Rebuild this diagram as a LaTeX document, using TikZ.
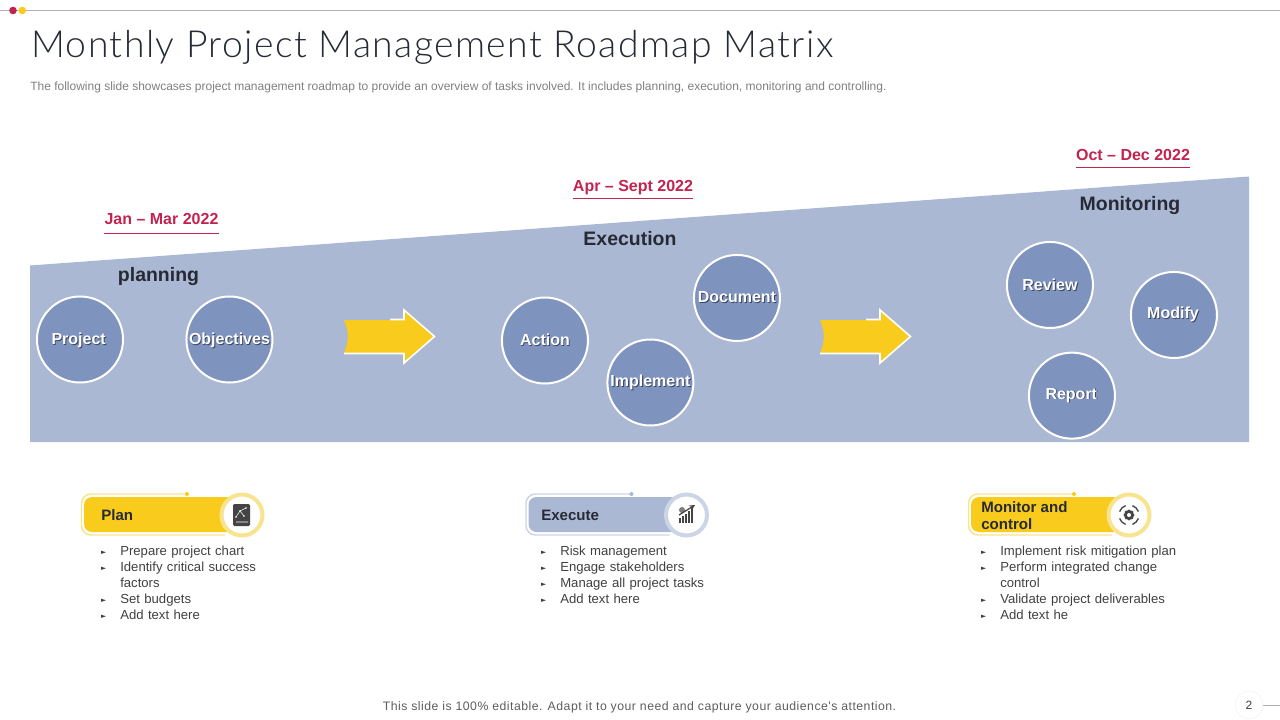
\documentclass[tikz,border=0pt]{standalone}
\usepackage{fontspec}
\setmainfont{Liberation Sans}
\newfontfamily\titlefont[LetterSpace=3.8]{Lato Light}
\newfontfamily\footerfont[LetterSpace=3.95]{Liberation Sans}
\newfontfamily\bulletfont{DejaVu Sans}
\usepackage{xcolor}
\usetikzlibrary{shapes.geometric, arrows}
\definecolor{bandblue}{HTML}{ABB8D4}
\definecolor{circblue}{HTML}{7E93BE}
\definecolor{circshadow}{HTML}{3C4660}
\definecolor{crimson}{HTML}{C3234F}
\definecolor{sunyellow}{HTML}{F9CB1C}
\definecolor{paleyellow}{HTML}{F8E38E}
\definecolor{paleblue}{HTML}{CCD5E6}
\definecolor{inkdark}{HTML}{262A35}
\definecolor{bodygray}{HTML}{404040}
\definecolor{notegray}{HTML}{7F7F7F}
\definecolor{icongray}{HTML}{444444}
\newcommand{\shadowed}[1]{\leavevmode\rlap{\kern0.7pt\raisebox{-0.7pt}{\textcolor{circshadow}{#1}}}#1}
\newcommand{\bitem}{\leavevmode\llap{\raisebox{0.8pt}{\bulletfont\fontsize{5pt}{5pt}\selectfont ►}\kern10.5pt}}
\tikzstyle{stage} = [circle, minimum size=64.5pt, inner sep=0pt, draw=white, line width=1.5pt, fill=circblue, text=white, font=\fontsize{12}{14}\selectfont\bfseries]
\tikzstyle{phase} = [text=inkdark, font=\fontsize{14.6}{17}\selectfont\bfseries]
\tikzstyle{period} = [anchor=base, text=crimson, inner xsep=0pt, inner ysep=4.5pt, text depth=0pt, font=\fontsize{12}{14}\selectfont\bfseries]
\tikzstyle{periodline} = [draw=crimson, line width=0.75pt]
\tikzstyle{pilltext} = [anchor=west, inner sep=0pt, text=inkdark, align=left, font=\fontsize{11.3}{12.8}\selectfont\bfseries]
\tikzstyle{bullets} = [anchor=north west, inner sep=0pt, text width=150pt, align=left, text=bodygray, font=\fontsize{9.85}{12}\selectfont]

\begin{document}
\begin{tikzpicture}[x=0.75pt, y=-0.75pt, node distance=75pt]
                \useasboundingbox (0,0) rectangle (1280,720);

% ---------------------------------------------
% Header
% ---------------------------------------------
                \draw [line width=0.6pt, black!30] (0,10.5) -- (1280,10.5);
                \fill [crimson] (13,10.5) circle (3.8);
                \fill [sunyellow] (22.3,10.5) circle (3.8);
                \node (title) [anchor=west, inner sep=0pt, text=inkdark] at (31,47) {\titlefont\fontsize{28}{34}\selectfont Monthly Project Management Roadmap Matrix};
                \node (subtitle) [anchor=west, inner sep=0pt, text=notegray] at (30,87.5) {\fontsize{9}{11}\selectfont The following slide showcases project management roadmap to provide an overview of tasks involved. It includes planning, execution, monitoring and controlling.};

% ---------------------------------------------
% Band
% ---------------------------------------------
                \fill [bandblue] (30,265.5) -- (1249,176.5) -- (1249,442) -- (30,442) -- cycle;

                \node (date1) [period, inner ysep=6.75pt] at (161.5,224) {Jan -- Mar 2022};
                \node (date2) [period] at (633,192) {Apr -- Sept 2022};
                \node (date3) [period] at (1133,161) {Oct -- Dec 2022};
                \draw [periodline] (date1.south west) -- (date1.south east);
                \draw [periodline] (date2.south west) -- (date2.south east);
                \draw [periodline] (date3.south west) -- (date3.south east);

                \node (phase1) [phase] at (158.5,277) {planning};
                \node (phase2) [phase] at (630,239) {Execution};
                \node (phase3) [phase] at (1130,206) {Monitoring};

% ---------------------------------------------
% Circles
% ---------------------------------------------
                \node (step1_1) [stage] at (80,339.5) {\kern-2pt\raisebox{-0.9pt}[\height][\depth]{\shadowed{Project}}};
                \node (step1_2) [stage, right of = step1_1, xshift=37.1pt] {\raisebox{-1.2pt}[\height][\depth]{\shadowed{Objectives}}};

                \node (step2_1) [stage, right of = step1_2, xshift=161.6pt, yshift=-0.75pt] {\shadowed{Action}};
                \node (step2_2) [stage, right of = step2_1, xshift=4.1pt, yshift=-31.5pt] {\shadowed{Implement}};
                \node (step2_3) [stage, right of = step2_2, xshift=-10.1pt, yshift=63.4pt] {\shadowed{Document}};

                \node (step3_1) [stage, right of = step2_3, xshift=159.75pt, yshift=9.75pt] {\shadowed{Review}};
                \node (step3_2) [stage, right of = step3_1, xshift=18pt, yshift=-22.5pt] {\kern-1.5pt\shadowed{Modify}};
                \node (step3_3) [stage, below of = step3_1, xshift=16.5pt, yshift=-8pt] {\kern-1pt\shadowed{Report}};

% ---------------------------------------------
% Yellow arrows
% ---------------------------------------------
                \foreach \offset in {0,476} {
                    \begin{scope}[shift={(\offset,0)}]
                        \fill [sunyellow] (344,320) -- (404,320) -- (404,309) -- (435,336.5) -- (404,364) -- (404,353) -- (344,353) .. controls (349,342) and (349,331) .. (344,320) -- cycle;
                        \draw [white, line width=1.2pt, line join=miter] (390,319.5) -- (404,319.5) -- (404,310) -- (434.5,336.5) -- (404,363) -- (404,353.5) -- (344,353.5);
                    \end{scope}
                }

% ---------------------------------------------
% Pills below the band
% ---------------------------------------------
                \foreach \offset/\pillcol/\ringcol in {0/sunyellow/paleyellow, 444.5/bandblue/paleblue, 887/sunyellow/paleyellow} {
                    \begin{scope}[shift={(\offset,0)}]
                        \draw [\ringcol, line width=1.1pt, rounded corners=7pt] (187,494) -- (81.5,494) -- (81.5,535) -- (225,535);
                        \fill [\pillcol] (187,494) circle (2);
                        \fill [\pillcol, rounded corners=6pt] (84,497) rectangle (240,532);
                        \fill [\pillcol] (200,497) rectangle (240,532);
                        \draw [\ringcol, line width=3pt, fill=white] (242,515) circle (20.5);
                    \end{scope}
                }

                \node (pill1) [pilltext] at (101,515) {Plan};
                \node (pill2) [pilltext] at (541,515) {Execute};
                \node (pill3) [pilltext] at (981,515.5) {Monitor and\\control};

                % plan icon
                \fill [icongray, rounded corners=1pt] (233,504) rectangle (250,526);
                \draw [white, line width=0.4pt] (236,517) -- (240,511) -- (246,508) (240,511) -- (244,516) (236,522) -- (248,522);
                \fill [white] (236,517) circle (0.9) (240,511) circle (0.9) (246,508) circle (0.9) (244,516) circle (0.9);

                % execute icon
                \fill [icongray!70] (682,510) circle (3);
                \foreach \barx/\bartop in {679/518, 682/516, 685/514, 688/511, 691/508} {
                    \fill [icongray] (\barx,\bartop) rectangle ++(2.4,-\bartop+523);
                }
                \draw [icongray, line width=0.9pt, -stealth] (679,515) -- (695,505);

                % monitor icon
                \fill [icongray] (1129,515) circle (5);
                \foreach \ang in {0,45,...,315} {
                    \fill [icongray] (1129,515) ++(\ang:4) circle (1.7);
                }
                \fill [white] (1129,515) circle (2);
                \foreach \ang in {20,110,200,290} {
                    \draw [icongray, line width=1pt] (1129,515) ++(\ang:10) arc [start angle=\ang, end angle=\ang+50, radius=10];
                }

% ---------------------------------------------
% Bullet lists
% ---------------------------------------------
                \node (list1) [bullets] at (120,545.5) {\bitem Prepare project chart\\\bitem Identify critical success\\factors\\\bitem Set budgets\\\bitem Add text here};
                \node (list2) [bullets] at (560,545.5) {\bitem Risk management\\\bitem Engage stakeholders\\\bitem Manage all project tasks\\\bitem Add text here};
                \node (list3) [bullets] at (1000,545.5) {\bitem Implement risk mitigation plan\\\bitem Perform integrated change\\control\\\bitem Validate project deliverables\\\bitem Add text he};

% ---------------------------------------------
% Footer
% ---------------------------------------------
                \node (footer) [inner sep=0pt, text=bodygray!85] at (639.5,707) {\footerfont\fontsize{9.2}{11}\selectfont This slide is 100\% editable. Adapt it to your need and capture your audience's attention.};
                \node (pageno) [circle, minimum size=21pt, inner sep=0pt, draw=black!6, text=bodygray, font=\fontsize{9}{11}\selectfont] at (1249,705) {2};
                \coordinate (pageend) at (1280,705);
                \draw [line width=0.6pt, black!30] (pageno) -- (pageend);
            \end{tikzpicture}
\end{document}
